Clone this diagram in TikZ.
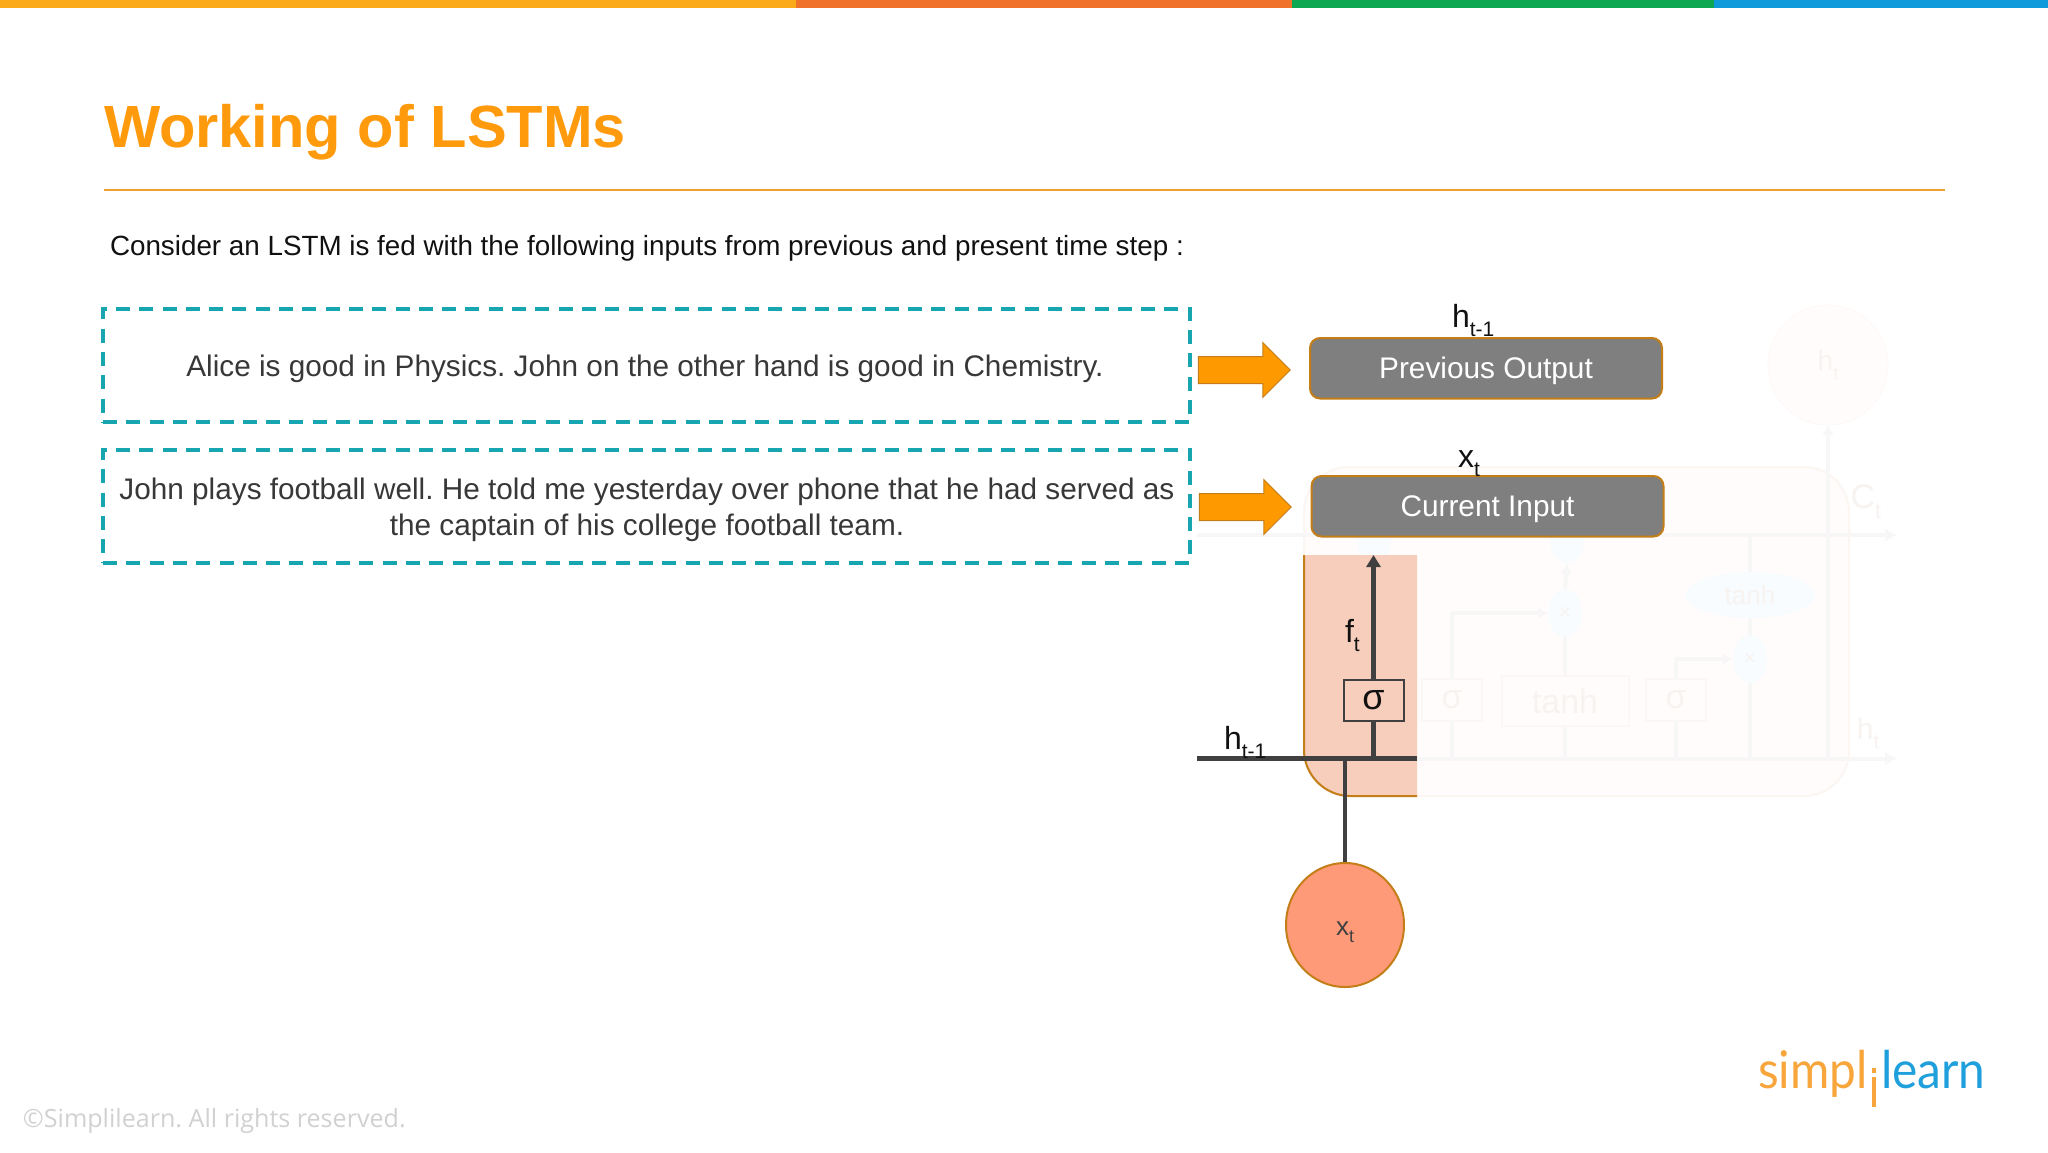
\documentclass[tikz,border=0pt]{standalone}
\usepackage{fontspec}
\setmainfont{Liberation Sans}
\newfontfamily\footfont{Open Sans}
\newfontfamily\logofont{Lato}
\AtBeginDocument{\frenchspacing}
\usetikzlibrary{shapes.geometric,shapes.arrows,arrows.meta}
\definecolor{barA}{HTML}{FBAA19}
\definecolor{barB}{HTML}{F0712A}
\definecolor{barC}{HTML}{0DA651}
\definecolor{barD}{HTML}{0E9ADB}
\definecolor{titleC}{HTML}{FF9A0D}
\definecolor{ruleC}{HTML}{F0A22E}
\definecolor{tealC}{HTML}{17A6B0}
\definecolor{edgeC}{HTML}{C47E17}
\definecolor{arrowC}{HTML}{FF9900}
\definecolor{boxC}{HTML}{7F7F7F}
\definecolor{pinkC}{HTML}{F7CEBB}
\definecolor{circC}{HTML}{FF9A78}
\definecolor{darkC}{HTML}{404040}
\definecolor{inkC}{HTML}{111111}
\definecolor{bodyC}{HTML}{383838}
\definecolor{fpink}{HTML}{FFFCFB}
\definecolor{fedge}{HTML}{FCF6F2}
\definecolor{fline}{HTML}{F7F7F7}
\definecolor{fbox}{HTML}{FAF8F7}
\definecolor{ftext}{HTML}{F7F3F1}
\definecolor{fblue}{HTML}{F8FCFE}
\definecolor{logoO}{HTML}{F8A63C}
\definecolor{logoB}{HTML}{1FA0DC}
\newcommand{\fsz}[1]{\fontsize{#1}{#1}\selectfont}
\newcommand{\sbsc}[2]{\raisebox{-.3em}{\fsz{#1}#2}}
\tikzset{
  x=1pt,y=-1pt,
  txt/.style={inner sep=0pt,outer sep=0pt,text=inkC},
  dashbox/.style={draw=tealC,line width=4pt,dash pattern=on 14pt off 9.3pt,inner sep=0pt,minimum width=1087pt,minimum height=113pt},
  bigarrow/.style={single arrow,draw=edgeC,fill=arrowC,line width=1pt,minimum width=54pt,minimum height=92pt,single arrow head extend=14pt,single arrow tip angle=90,single arrow head indent=0pt,inner xsep=0pt,inner ysep=13pt},
  graybox/.style={draw=edgeC,fill=boxC,line width=2pt,rounded corners=10pt,minimum width=352pt,minimum height=60.5pt,inner sep=0pt,text=white,font=\fsz{29.8},text height=24pt,text depth=3.5pt},
  wire/.style={draw=darkC,line width=4.8pt},
  fwire/.style={draw=fline,line width=4pt},
  fgate/.style={draw=fbox,line width=2pt,inner sep=0pt,text=ftext,font=\fsz{34}},
  fcirc/.style={ellipse,fill=fblue,draw=none,minimum width=34pt,minimum height=48pt,inner sep=0pt,text=ftext,font=\fsz{22}}
}
\begin{document}
\begin{tikzpicture}
\useasboundingbox (0,0) rectangle (2048,1152);
\fill[white] (0,0) rectangle (2048,1152);
% top colour bar
\fill[barA] (0,0) rectangle (796,8);
\fill[barB] (796,0) rectangle (1292,8);
\fill[barC] (1292,0) rectangle (1714,8);
\fill[barD] (1714,0) rectangle (2048,8);
% title
\node[txt,anchor=base west,text=titleC,font=\fsz{59.6}\bfseries] (title) at (104,147) {Working of LSTMs};
\coordinate (ruleL) at (104,190);
\coordinate (ruleR) at (1945,190);
\draw[ruleC,line width=1.6pt] (ruleL) -- (ruleR);
\node[txt,anchor=base west,font=\fsz{27.8}] (intro) at (110,255) {Consider an LSTM is fed with the following inputs from previous and present time step :};
% dashed text boxes
\node[dashbox,anchor=north west] (boxA) at (101,307) {};
\node[dashbox,anchor=north west] (boxB) at (101,447.5) {};
\node[txt,text=bodyC,font=\fsz{29.75}] (textA) at (645,368.5) {Alice is good in Physics. John on the other hand is good in Chemistry.};
\node[txt,text=bodyC,align=center,font=\fontsize{29.75}{36}\selectfont] (textB) at (647,510) {John plays football well. He told me yesterday over phone that he had served as\\the captain of his college football team.};
% faint background LSTM cell
\draw[fedge,fill=fpink,line width=2pt,rounded corners=45pt] (1304,467) rectangle (1849,796);
\coordinate (lineCL) at (1197,535);
\coordinate (lineCR) at (1897,535);
\draw[fwire,-{Latex[length=12pt,width=14pt]}] (lineCL) -- (lineCR);
\coordinate (lineHM) at (1417,758.5);
\coordinate (lineHR) at (1897,758.5);
\draw[fwire,-{Latex[length=12pt,width=14pt]}] (lineHM) -- (lineHR);
\node[fcirc,draw=none] (plusA) at (1374,540) {};
\node[fcirc] (plusB) at (1567,540) {};
\node[fgate,minimum width=60pt,minimum height=42pt] (fgA) at (1452,700) {σ};
\node[fgate,minimum width=127pt,minimum height=50pt] (fgB) at (1565,701) {tanh};
\node[fgate,minimum width=60pt,minimum height=42pt] (fgC) at (1676,700) {σ};
\node[fcirc,text=ftext] (timesA) at (1565,613) {×};
\node[fcirc,text=ftext] (timesB) at (1750,659) {×};
\node[ellipse,fill=fblue,minimum width=130pt,minimum height=46pt,inner sep=0pt,text=ftext,font=\fsz{26}] (tanhE) at (1750,595) {tanh};
\node[circle,fill=fpink,draw=fedge,minimum size=120pt,inner sep=0pt,text=ftext,font=\fsz{28}] (htop) at (1828,365) {h\sbsc{18}{t}};
\node[txt,text=ftext,font=\fsz{34}] (cLab) at (1866,502) {C\sbsc{22}{t}};
\node[txt,text=ftext,font=\fsz{30}] (hLab) at (1868,733) {h\sbsc{20}{t}};
\draw[fwire] (fgA.south) -- (fgA.south |- lineHM);
\draw[fwire] (fgB.south) -- (fgB.south |- lineHM);
\draw[fwire] (fgC.south) -- (fgC.south |- lineHM);
\draw[fwire,-{Latex[length=10pt,width=12pt]}] (fgA.north) |- (timesA.west);
\draw[fwire] (fgB.north) -- (timesA.south);
\draw[fwire,-{Latex[length=10pt,width=12pt]}] (timesA.north) -- (plusB.south);
\draw[fwire,-{Latex[length=10pt,width=12pt]}] (fgC.north) |- (timesB.west);
\draw[fwire] (timesB.north) -- (tanhE.south);
\draw[fwire] (tanhE.north) -- (tanhE.north |- lineCL);
\draw[fwire] (timesB.south) -- (timesB.south |- lineHM);
\draw[fwire,-{Latex[length=10pt,width=12pt]}] (htop.south |- lineHM) -- (htop.south);
% pink strip
\fill[pinkC] (1304,555) -- (1304,750) .. controls (1304,775) and (1325,796) .. (1350,796) -- (1417,796) -- (1417,555) -- cycle;
\draw[edgeC,line width=2pt] (1304,555) -- (1304,750) .. controls (1304,775) and (1325,796) .. (1350,796) -- (1417,796);
% arrows
\node[bigarrow] (arrA) at (1237.5,370) {};
\node[bigarrow] (arrB) at (1238.5,507) {};
% gray boxes
\node[graybox,anchor=north west] (prev) at (1309,337) {Previous Output};
\node[graybox,anchor=north west] (curr) at (1310.5,475) {Current Input};
\node[txt,anchor=base west,font=\fsz{32}] (labH) at (1452,327) {h\sbsc{21}{t-1}};
\node[txt,anchor=base west,font=\fsz{32}] (labX) at (1458,467) {x\sbsc{21}{t}};
% foreground cell
\coordinate (hL) at (1197,758.5);
\coordinate (hR) at (1417,758.5);
\coordinate (hIn) at (1345,758.5);
\coordinate (tipF) at (1373.5,555);
\node[draw=darkC,line width=2pt,minimum width=60pt,minimum height=41pt,inner sep=0pt,text=inkC,font=\fsz{36}] (sig) at (1373.5,700) {σ};
\node[ellipse,draw=edgeC,fill=circC,line width=2pt,minimum width=118pt,minimum height=124pt,inner sep=0pt,text=darkC,font=\fsz{26},text height=20pt,text depth=0pt] (xin) at (1345,925) {x\sbsc{18}{t}};
\draw[wire] (hL) -- (hR);
\draw[wire] (xin.north) -- (hIn);
\draw[wire] (sig |- hIn) -- (sig.south);
\draw[wire,-{Triangle[length=12pt,width=14pt]}] (sig.north) -- (tipF);
\node[txt,anchor=base west,font=\fsz{32}] (labHb) at (1224,749) {h\sbsc{21}{t-1}};
\node[txt,anchor=base west,font=\fsz{32}] (labF) at (1345,642) {f\sbsc{21}{t}};
% footer
\node[txt,anchor=base west,text=black!18,font=\footfont\fsz{25.1}] (foot) at (23,1127) {©Simplilearn. All rights reserved.};
% logo
\node[txt,anchor=base west,text=logoO,font=\logofont\fsz{52}] (logoA) at (1758,1088) {\scalebox{0.92}[1]{simpl}};
\node[txt,anchor=base west,text=logoB,font=\logofont\fsz{52}] (logoB) at (1881,1088) {\scalebox{0.92}[1]{learn}};
\fill[logoO] (1871.5,1068) rectangle (1875.5,1073);
\fill[logoO] (1871.5,1077) rectangle (1875.5,1107);
\end{tikzpicture}
\end{document}
